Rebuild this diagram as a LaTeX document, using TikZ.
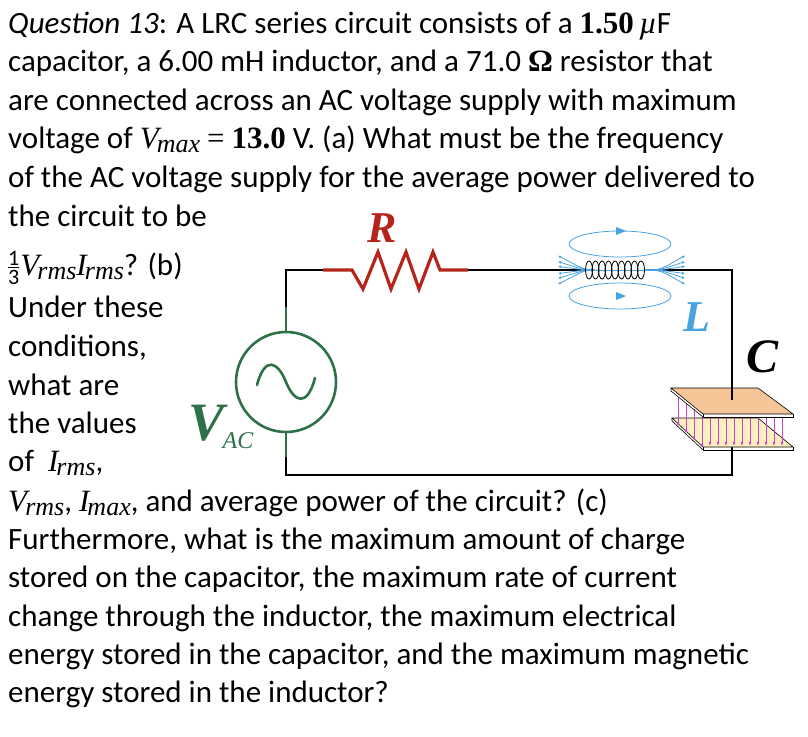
\documentclass[tikz,border=0pt]{standalone}
\usepackage{amsmath}
\usepackage{fontspec}
\setmainfont{Carlito}
\newfontfamily\serif{Liberation Serif}
\usetikzlibrary{arrows.meta,decorations.markings}
\newcommand{\mvar}[2]{{\serif\itshape #1\kern-0.06em\raisebox{-0.3ex}{\fontsize{26}{26}\selectfont #2}}}
\newcommand{\onethird}{\raisebox{-9pt}{\fontsize{22}{22}\selectfont\vbox{\hbox{1}\kern2pt\hrule height 1pt\kern1.5pt\hbox{3}}}\kern1pt}
\definecolor{grn}{HTML}{2E7048}
\definecolor{rd}{HTML}{B5251B}
\definecolor{bl}{HTML}{4AA3E0}
\definecolor{org}{HTML}{F5C497}
\definecolor{ylw}{HTML}{FCF0C0}
\definecolor{mag}{HTML}{D040C8}
\begin{document}
\begin{tikzpicture}[x=1pt,y=-1pt,
  txt/.style={anchor=base west,inner sep=0pt,font=\fontsize{31}{34}\selectfont},
  wire/.style={line width=2.6pt,black},
  fld/.style={bl,line width=0.8pt}]
\useasboundingbox (0,0) rectangle (808,736);
% text
\node[txt] (l1) at (8,33) {\textit{Question 13}: A LRC series circuit consists of a {\serif\bfseries 1.50}\,{\serif\itshape µ}F};
\node[txt] (l2) at (8,71) {capacitor, a 6.00 mH inductor, and a 71.0 {\serif\bfseries Ω} resistor that};
\node[txt] (l3) at (8,110) {are connected across an AC voltage supply with maximum};
\node[txt] (l4) at (8,148) {voltage of \mvar{V}{max} {\serif =} {\serif\bfseries 13.0} V. (a) What must be the frequency};
\node[txt] (l5) at (8,187) {of the AC voltage supply for the average power delivered to};
\node[txt] (l6) at (8,226) {the circuit to be};
\node[txt] (l7) at (8,275) {\onethird\mvar{V}{rms}\mvar{I}{rms}? (b)};
\node[txt] (l8) at (8,317) {Under these};
\node[txt] (l9) at (8,356) {conditions,};
\node[txt] (l10) at (8,395) {what are};
\node[txt] (l11) at (8,433) {the values};
\node[txt] (l12) at (8,471) {of \ \mvar{I}{rms},};
\node[txt] (l13) at (8,511) {\mvar{V}{rms}, \mvar{I}{max}, and average power of the circuit? (c)};
\node[txt] (l14) at (8,549) {Furthermore, what is the maximum amount of charge};
\node[txt] (l15) at (8,587) {stored on the capacitor, the maximum rate of current};
\node[txt] (l16) at (8,626) {change through the inductor, the maximum electrical};
\node[txt] (l17) at (8,664) {energy stored in the capacitor, and the maximum magnetic};
\node[txt] (l18) at (8,702) {energy stored in the inductor?};
% circuit corners
\coordinate (tl) at (286,270); \coordinate (bl0) at (286,475);
\coordinate (tr) at (732,270); \coordinate (br) at (732,475);
\coordinate (st) at (286,307); \coordinate (sb) at (286,457);
\coordinate (ra) at (323,270); \coordinate (rb) at (468,270);
\coordinate (la) at (585,270); \coordinate (lb) at (648,270);
\coordinate (ct) at (732,400); \coordinate (cb) at (732,447);
\draw[wire] (st) -- (tl) -- (ra);
\draw[wire] (rb) -- (la);
\draw[wire] (lb) -- (tr) -- (ct);
\draw[wire] (cb) -- (br) -- (bl0) -- (sb);
% source
\node[draw=grn,line width=2.6pt,circle,minimum size=100pt,inner sep=0pt] (src) at (286,382) {};
\draw[grn,line width=2.6pt] (st) -- (src.north);
\draw[grn,line width=2.6pt] (sb) -- (src.south);
\draw[grn,line width=2.6pt,line cap=round] (257,385) .. controls (265,355) and (278,362) .. (286,382) .. controls (294,402) and (307,408) .. (315,378);
\node[grn,font=\fontsize{54}{54}\selectfont\serif\bfseries\itshape,inner sep=0pt] (vlab) at (207,423) {V};
\node[grn,font=\fontsize{24}{24}\selectfont\serif\itshape,inner sep=0pt] (aclab) at (238,441) {AC};
% resistor
\draw[rd,line width=3.2pt] (ra) -- (352,270) -- (363,289) -- (378,252) -- (391,289) -- (406,252) -- (419,289) -- (433,252) -- (440,270) -- (rb);
\node[rd,font=\fontsize{44}{44}\selectfont\serif\bfseries\itshape,inner sep=0pt] (rlab) at (382,228) {R};
% inductor field
\draw[fld] (620,244) ellipse [x radius=51,y radius=13];
\draw[fld] (620,296) ellipse [x radius=51,y radius=13];
\fill[bl] (616,292) -- (626,296) -- (616,300) -- cycle;
\fill[bl] (626,231) -- (616,227) -- (616,235) -- cycle;
\foreach \d in {-12,-7,-3,3,7,12}{
  \draw[fld,-{Latex[length=3pt,width=3pt]}] (595,270) .. controls (585,270) .. (558,270+\d*1.2);
  \draw[fld,{Latex[length=3pt,width=3pt]}-] (685,270+\d*1.2) .. controls (660,270) .. (645,270);
}
\draw[fld] (585,270) -- (650,270);
\foreach \i in {0,...,8}{
  \draw[black,line width=0.8pt] (589+\i*6.5,270) ellipse [x radius=3.5,y radius=9];
}
\node[bl,font=\fontsize{44}{44}\selectfont\serif\bfseries\itshape,inner sep=0pt] (llab) at (697,317) {L};
\node[font=\fontsize{48}{48}\selectfont\serif\bfseries\itshape,inner sep=0pt] (clab) at (762,357) {C};
% capacitor
\fill[ylw,draw=black,line width=0.6pt] (672,418) -- (758,418) -- (793,447) -- (703,447) -- cycle;
\draw[black,line width=0.6pt] (703,447) -- (703,450) -- (793,450) -- (793,447);
\draw[black,line width=0.6pt] (672,418) -- (672,421) -- (703,450);
\foreach \x in {678,686,...,782}{
  \pgfmathsetmacro{\ys}{\x<703 ? 391+(\x-671)*0.8 : 417}
  \pgfmathsetmacro{\ye}{\x<703 ? 421+(\x-672)*0.9 : 446}
  \draw[mag,line width=0.8pt,-{Latex[length=4pt,width=3pt]}] (\x,\ys) -- (\x,\ye);
}
\fill[org,draw=black,line width=0.6pt] (671,388) -- (758,388) -- (793,414) -- (703,414) -- cycle;
\draw[black,line width=0.6pt] (703,414) -- (703,417) -- (793,417) -- (793,414);
\draw[black,line width=0.6pt] (671,388) -- (671,391) -- (703,417);
\draw[wire] (732,380) -- (ct);
\end{tikzpicture}
\end{document}
